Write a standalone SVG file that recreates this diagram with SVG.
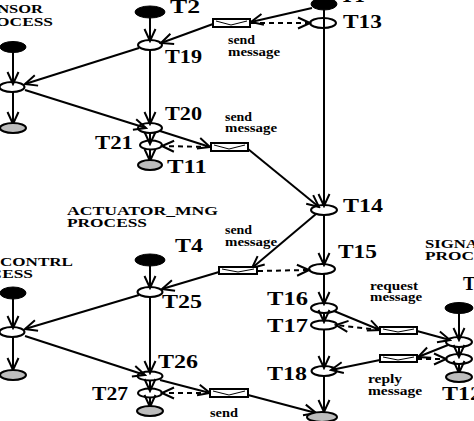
<svg xmlns="http://www.w3.org/2000/svg" width="474" height="421" viewBox="0 0 474 421">
<style>
.t{font-family:"Liberation Serif","Times New Roman",serif;font-weight:bold;font-size:19px;fill:#000}
.s{font-family:"Liberation Serif","Times New Roman",serif;font-weight:bold;font-size:11.5px;fill:#000}
.p{font-family:"Liberation Serif","Times New Roman",serif;font-weight:bold;font-size:12px;fill:#000}
.c path{fill:none;stroke:#000;stroke-width:2;marker-end:url(#a)}
.c path.d{stroke-dasharray:5,4}
.o{fill:none;stroke:#000;stroke-width:2}
.b{fill:#000;stroke:#000;stroke-width:1}
.g{fill:#bdbdbd;stroke:#000;stroke-width:2}
.m{fill:#fff;stroke:#000;stroke-width:2}
.z{fill:none;stroke:#000;stroke-width:1}
</style>
<defs>
<marker id="a" viewBox="-14 -8 16 16" refX="0" refY="0" markerWidth="16" markerHeight="16" markerUnits="userSpaceOnUse" orient="auto">
<path d="M-12,-5.5 L0,0 L-12,5.5" fill="none" stroke="#000" stroke-width="2"/>
</marker>
</defs>
<rect width="474" height="421" fill="#fff"/>

<g id="labels">
<text class="p" x="-23" y="13" textLength="66" lengthAdjust="spacingAndGlyphs">SENSOR</text>
<text class="p" x="-27" y="26" textLength="80" lengthAdjust="spacingAndGlyphs">PROCESS</text>
<text class="p" x="67" y="215" textLength="151" lengthAdjust="spacingAndGlyphs">ACTUATOR_MNG</text>
<text class="p" x="67" y="227" textLength="80" lengthAdjust="spacingAndGlyphs">PROCESS</text>
<text class="p" x="0" y="266" textLength="73" lengthAdjust="spacingAndGlyphs">CONTRL</text>
<text class="p" x="-47" y="278" textLength="80" lengthAdjust="spacingAndGlyphs">PROCESS</text>
<text class="p" x="425" y="248" textLength="64" lengthAdjust="spacingAndGlyphs">SIGNAL</text>
<text class="p" x="425" y="260" textLength="80" lengthAdjust="spacingAndGlyphs">PROCESS</text>
</g>

<g id="connectors" class="c">
<path d="M150,18 L150,41"/>
<path d="M150,50 L150,124"/>
<path d="M150,133 L150,144"/>
<path d="M150,149 L150,161"/>
<path d="M13,53 L13,84"/>
<path d="M13,92 L13,124"/>
<path d="M139,48 L25,84"/>
<path d="M25,90 L146,128"/>
<path d="M160,131 L210,147"/>
<path d="M248,149 L319,207"/>
<path class="d" d="M210,147 L162,146"/>
<path d="M324,10 L324,206"/>
<path d="M312,8 L251,22"/>
<path class="d" d="M251,23 L310,23"/>
<path d="M213,24 L161,43"/>
<path d="M324,215 L324,265"/>
<path d="M316,214 L252,268"/>
<path class="d" d="M258,271 L309,270"/>
<path d="M219,272 L162,289"/>
<path d="M150,266 L150,288"/>
<path d="M139,295 L25,329"/>
<path d="M13,299 L13,328"/>
<path d="M13,337 L13,370"/>
<path d="M25,336 L145,375"/>
<path d="M150,297 L150,373"/>
<path d="M150,380 L150,391"/>
<path d="M150,398 L150,407"/>
<path d="M160,380 L210,393"/>
<path class="d" d="M210,393 L162,393"/>
<path d="M248,395 L316,413"/>
<path d="M324,274 L324,304"/>
<path d="M324,313 L324,322"/>
<path d="M324,330 L324,368"/>
<path d="M324,376 L324,412"/>
<path d="M334,311 L380,330"/>
<path class="d" d="M380,330 L336,325"/>
<path d="M417,331 L450,340"/>
<path d="M459,314 L459,340"/>
<path d="M459,347 L459,357"/>
<path d="M459,364 L459,373"/>
<path d="M448,345 L418,357"/>
<path class="d" d="M417,359 L446,359"/>
<path d="M380,360 L331,370"/>
</g>

<g id="sensor">
<ellipse class="b" cx="13" cy="47" rx="13" ry="5.5"/>
<ellipse class="o" cx="12" cy="87" rx="12.5" ry="5"/>
<ellipse class="g" cx="13" cy="128" rx="13" ry="5"/>
</g>
<g id="T2"><ellipse class="b" cx="150" cy="12" rx="15" ry="6"/><text class="t" x="170" y="13" textLength="30" lengthAdjust="spacingAndGlyphs">T2</text></g>
<g id="T19"><ellipse class="o" cx="150" cy="45" rx="12" ry="5"/><text class="t" x="165" y="63" textLength="37" lengthAdjust="spacingAndGlyphs">T19</text></g>
<g id="T20"><ellipse class="o" cx="150" cy="128" rx="12" ry="5"/><text class="t" x="165" y="120" textLength="37" lengthAdjust="spacingAndGlyphs">T20</text></g>
<g id="T21"><ellipse class="o" cx="151" cy="145" rx="11" ry="4.5"/><text class="t" x="95" y="149" textLength="38" lengthAdjust="spacingAndGlyphs">T21</text></g>
<g id="T11"><ellipse class="g" cx="150" cy="165" rx="12" ry="5"/><text class="t" x="167" y="173" textLength="40" lengthAdjust="spacingAndGlyphs">T11</text></g>
<g id="T1"><ellipse class="b" cx="324" cy="4" rx="13" ry="6"/><text class="t" x="340" y="2" textLength="25" lengthAdjust="spacingAndGlyphs">T1</text></g>
<g id="T13"><ellipse class="o" cx="323" cy="23" rx="13" ry="5"/><text class="t" x="343" y="28" textLength="39" lengthAdjust="spacingAndGlyphs">T13</text></g>
<g id="msg1"><rect class="m" x="213" y="19" width="37" height="8"/><polyline class="z" points="216,21 231,25 247,21"/><text class="s" x="228" y="44" textLength="27" lengthAdjust="spacingAndGlyphs">send</text><text class="s" x="228" y="56" textLength="52" lengthAdjust="spacingAndGlyphs">message</text></g>
<g id="msg2"><rect class="m" x="211" y="143" width="37" height="8"/><polyline class="z" points="214,145 229,149 245,145"/><text class="s" x="225" y="121" textLength="27" lengthAdjust="spacingAndGlyphs">send</text><text class="s" x="225" y="132" textLength="52" lengthAdjust="spacingAndGlyphs">message</text></g>
<g id="T14"><ellipse class="o" cx="324" cy="210" rx="13" ry="5"/><text class="t" x="343" y="212" textLength="40" lengthAdjust="spacingAndGlyphs">T14</text></g>
<g id="T15"><ellipse class="o" cx="322" cy="269" rx="13" ry="5"/><text class="t" x="338" y="258" textLength="39" lengthAdjust="spacingAndGlyphs">T15</text></g>
<g id="msg3"><rect class="m" x="219" y="267" width="38" height="7"/><polyline class="z" points="222,269 238,272 254,269"/><text class="s" x="225" y="234" textLength="27" lengthAdjust="spacingAndGlyphs">send</text><text class="s" x="225" y="246" textLength="52" lengthAdjust="spacingAndGlyphs">message</text></g>
<g id="T4"><ellipse class="b" cx="150" cy="260" rx="15" ry="6"/><text class="t" x="175" y="252" textLength="28" lengthAdjust="spacingAndGlyphs">T4</text></g>
<g id="T25"><ellipse class="o" cx="150" cy="292" rx="12.5" ry="5"/><text class="t" x="162" y="308" textLength="40" lengthAdjust="spacingAndGlyphs">T25</text></g>
<g id="controller">
<ellipse class="b" cx="13" cy="293" rx="13" ry="6"/>
<ellipse class="o" cx="12" cy="332" rx="12.5" ry="5"/>
<ellipse class="g" cx="13" cy="375" rx="13" ry="5"/>
</g>
<g id="T26"><ellipse class="o" cx="150" cy="376" rx="12.5" ry="4.5"/><text class="t" x="158" y="368" textLength="40" lengthAdjust="spacingAndGlyphs">T26</text></g>
<g id="T27"><ellipse class="o" cx="150" cy="393" rx="12" ry="4.5"/><text class="t" x="92" y="400" textLength="36" lengthAdjust="spacingAndGlyphs">T27</text></g>
<g id="T27end"><ellipse class="g" cx="150" cy="411" rx="13" ry="5"/></g>
<g id="msg4"><rect class="m" x="210" y="389" width="38" height="8"/><polyline class="z" points="213,391 229,395 245,391"/><text class="s" x="210" y="417" textLength="28" lengthAdjust="spacingAndGlyphs">send</text></g>
<g id="T16"><ellipse class="o" cx="324" cy="308" rx="13" ry="5"/><text class="t" x="267" y="305" textLength="41" lengthAdjust="spacingAndGlyphs">T16</text></g>
<g id="T17"><ellipse class="o" cx="324" cy="325" rx="13" ry="4.5"/><text class="t" x="267" y="332" textLength="41" lengthAdjust="spacingAndGlyphs">T17</text></g>
<g id="T18"><ellipse class="o" cx="324" cy="371" rx="12.5" ry="5"/><text class="t" x="267" y="380" textLength="40" lengthAdjust="spacingAndGlyphs">T18</text></g>
<g id="T18end"><ellipse class="g" cx="322" cy="417" rx="15" ry="5"/></g>
<g id="request"><rect class="m" x="380" y="327" width="37" height="7"/><polyline class="z" points="383,329 398,332 414,329"/><text class="s" x="370" y="290" textLength="48" lengthAdjust="spacingAndGlyphs">request</text><text class="s" x="370" y="301" textLength="52" lengthAdjust="spacingAndGlyphs">message</text></g>
<g id="reply"><rect class="m" x="380" y="355" width="37" height="7"/><polyline class="z" points="383,357 398,360 414,357"/><text class="s" x="368" y="383" textLength="34" lengthAdjust="spacingAndGlyphs">reply</text><text class="s" x="368" y="395" textLength="54" lengthAdjust="spacingAndGlyphs">message</text></g>
<g id="signal">
<ellipse class="b" cx="459" cy="308" rx="14" ry="5.5"/>
<text class="t" x="463" y="290">T</text>
<ellipse class="o" cx="459" cy="342" rx="13" ry="5"/>
<ellipse class="o" cx="459" cy="359" rx="13" ry="5"/>
<ellipse class="g" cx="459" cy="377" rx="13" ry="5"/>
<text class="t" x="442" y="400" textLength="40" lengthAdjust="spacingAndGlyphs">T12</text>
</g>
</svg>
